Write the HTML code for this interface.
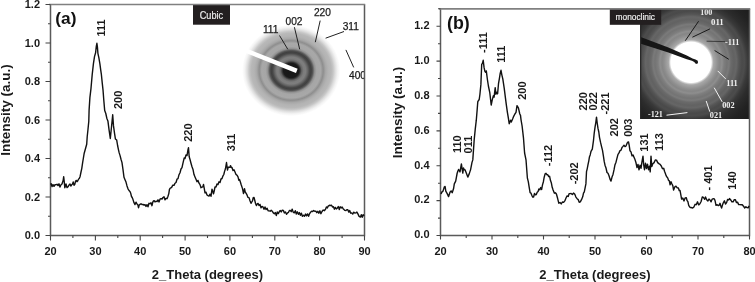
<!DOCTYPE html>
<html><head><meta charset="utf-8"><style>
html,body{margin:0;padding:0;background:#fff;}
body{width:755px;height:282px;overflow:hidden;position:relative;}
svg{position:absolute;left:0;top:0;}
text{font-family:"Liberation Sans",Arial,sans-serif;}
.tl{font-size:11px;font-weight:bold;fill:#1a1a1a;}
.pk{font-size:11px;font-weight:bold;fill:#1a1a1a;}
.at{font-size:13px;font-weight:bold;fill:#1a1a1a;} .yt{font-size:13.5px;}
.pl{font-size:17.3px;font-weight:bold;fill:#111;}
.ia text{font-size:10.2px;fill:#1a1a1a;stroke:#1a1a1a;stroke-width:0.25px;}
.ib text{font-size:8.6px;font-weight:bold;fill:#f0f0f0;font-family:"Liberation Serif",serif;}
.lb{font-size:9.4px;fill:#eee;stroke:#eee;stroke-width:0.2px;}
</style></head><body>
<svg width="755" height="282" viewBox="0 0 755 282">

<defs>
<radialGradient id="ga" cx="291.2" cy="70.5" r="55" gradientUnits="userSpaceOnUse" gradientTransform="translate(291.2 70.5) scale(1 0.93) translate(-291.2 -70.5)">
<stop offset="0.0000" stop-color="#161616"/>
<stop offset="0.1418" stop-color="#1a1a1a"/>
<stop offset="0.1636" stop-color="#363636"/>
<stop offset="0.1909" stop-color="#646464"/>
<stop offset="0.2273" stop-color="#7c7c7c"/>
<stop offset="0.2636" stop-color="#7e7e7e"/>
<stop offset="0.3000" stop-color="#666"/>
<stop offset="0.3364" stop-color="#474747"/>
<stop offset="0.3636" stop-color="#404040"/>
<stop offset="0.3909" stop-color="#555"/>
<stop offset="0.4273" stop-color="#919191"/>
<stop offset="0.4636" stop-color="#a6a6a6"/>
<stop offset="0.5364" stop-color="#a8a8a8"/>
<stop offset="0.5818" stop-color="#8e8e8e"/>
<stop offset="0.6273" stop-color="#a8a8a8"/>
<stop offset="0.6727" stop-color="#b3b3b3"/>
<stop offset="0.7273" stop-color="#b8b8b8"/>
<stop offset="0.7636" stop-color="#c6c6c6"/>
<stop offset="0.8000" stop-color="#dddddd"/>
<stop offset="0.8455" stop-color="#f3f3f3"/>
<stop offset="0.8909" stop-color="#fff"/>
</radialGradient>
<radialGradient id="gb" cx="691" cy="62.3" r="80" gradientUnits="userSpaceOnUse">
<stop offset="0.0000" stop-color="#fff"/>
<stop offset="0.2525" stop-color="#fff"/>
<stop offset="0.2662" stop-color="#d2d2d2"/>
<stop offset="0.2825" stop-color="#a8a8a8"/>
<stop offset="0.3125" stop-color="#9a9a9a"/>
<stop offset="0.3375" stop-color="#8e8e8e"/>
<stop offset="0.3625" stop-color="#868686"/>
<stop offset="0.3875" stop-color="#8e8e8e"/>
<stop offset="0.4125" stop-color="#7e7e7e"/>
<stop offset="0.4500" stop-color="#747474"/>
<stop offset="0.4750" stop-color="#7a7a7a"/>
<stop offset="0.5000" stop-color="#6a6a6a"/>
<stop offset="0.5375" stop-color="#626262"/>
<stop offset="0.5687" stop-color="#666"/>
<stop offset="0.6000" stop-color="#555"/>
<stop offset="0.6375" stop-color="#4a4a4a"/>
<stop offset="0.6687" stop-color="#4c4c4c"/>
<stop offset="0.7125" stop-color="#393939"/>
<stop offset="0.7750" stop-color="#2c2c2c"/>
<stop offset="0.8750" stop-color="#222"/>
<stop offset="1.0000" stop-color="#1c1c1c"/>
</radialGradient>
<clipPath id="ca"><rect x="225" y="5" width="139.5" height="112"/></clipPath>
<clipPath id="cb"><rect x="640" y="8.5" width="110" height="110.5"/></clipPath>
</defs>
<g clip-path="url(#ca)">
<rect x="225" y="5" width="140" height="112" fill="url(#ga)"/>
<line x1="238" y1="47.5" x2="296.8" y2="70.8" stroke="#fff" stroke-width="4.5"/>
<g stroke="#222" stroke-width="1">
<line x1="279.5" y1="35.5" x2="287.8" y2="49.3"/>
<line x1="294.4" y1="27.2" x2="299.7" y2="49.3"/>
<line x1="320.2" y1="20.6" x2="315.3" y2="42.2"/>
<line x1="344" y1="31.5" x2="325.6" y2="38.2"/>
<line x1="345.9" y1="49.9" x2="353.7" y2="67.4"/>
</g>
<g class="ia">
<text x="270.7" y="32.5" text-anchor="middle">111</text>
<text x="294" y="24.9" text-anchor="middle">002</text>
<text x="322.4" y="16" text-anchor="middle">220</text>
<text x="350.8" y="30.2" text-anchor="middle">311</text>
<text x="349" y="79">400</text>
</g>
</g>
<rect x="193" y="5" width="37" height="19.7" fill="#231f20"/>
<text x="199.7" y="18.9" class="lb" style="font-size:10.6px" textLength="23.4" lengthAdjust="spacingAndGlyphs">Cubic</text>


<g clip-path="url(#cb)">
<rect x="640" y="8.5" width="110" height="110.5" fill="#222"/>
<rect x="640" y="8.5" width="110" height="110.5" fill="url(#gb)"/>
<path d="M640,36.8 L668.4,47.4 L686.8,55.6 L692.5,58.4 L695.5,59.6 L697.8,60.8 L698,63.2 L696,64 L694.2,62 L692,60.8 L686.8,59.2 L668.4,52.4 L640,43.4 Z" fill="#161616"/>
<rect x="640" y="8.5" width="1.3" height="110.5" fill="#2a2a2a"/>
<g stroke="#1a1a1a" stroke-width="1">
<line x1="698.6" y1="21.2" x2="685.3" y2="40.7"/>
<line x1="710.1" y1="28.8" x2="692.4" y2="37.2"/>
<line x1="725" y1="41.6" x2="706.6" y2="41.2" stroke="#3a3a3a"/>
<line x1="714.6" y1="50.5" x2="728.8" y2="59.3"/>
</g>
<g stroke="#f4f4f4" stroke-width="1">
<line x1="725.7" y1="78.9" x2="717.7" y2="70.9"/>
<line x1="722.2" y1="101.9" x2="714.2" y2="87.7"/>
<line x1="709.8" y1="111.7" x2="706.2" y2="101"/>
<line x1="666.5" y1="115.2" x2="687.4" y2="112.6"/>
</g>
<g class="ib">
<text x="700.3" y="14.8" textLength="12" lengthAdjust="spacingAndGlyphs">100</text>
<text x="711" y="25.4" textLength="12.8" lengthAdjust="spacingAndGlyphs">011</text>
<text x="725.1" y="45.1" textLength="14.3" lengthAdjust="spacingAndGlyphs">-111</text>
<text x="726.2" y="86.3" textLength="11.6" lengthAdjust="spacingAndGlyphs">111</text>
<text x="722.2" y="107.6" textLength="12.4" lengthAdjust="spacingAndGlyphs">002</text>
<text x="709.8" y="117.5" textLength="12.4" lengthAdjust="spacingAndGlyphs">021</text>
<text x="648" y="117" textLength="14.9" lengthAdjust="spacingAndGlyphs">-121</text>
</g>
</g>
<rect x="609.8" y="8.9" width="51.4" height="15.9" fill="#231f20"/>
<text x="615.6" y="20" class="lb" textLength="39.4" lengthAdjust="spacingAndGlyphs">monoclinic</text>

<path d="M50.5,4.5 L50.5,235.5 L364.5,235.5 L364.5,4.5" fill="none" stroke="#5a5a5a" stroke-width="1.5"/>
<path d="M49.0,4.5 L365.2,4.5" fill="none" stroke="#808080" stroke-width="1.7"/>
<path d="M50.5,235.5 v5 M95.4,235.5 v5 M140.2,235.5 v5 M185.1,235.5 v5 M229.9,235.5 v5 M274.8,235.5 v5 M319.6,235.5 v5 M364.5,235.5 v5 M72.9,235.5 v2.5 M117.8,235.5 v2.5 M162.6,235.5 v2.5 M207.5,235.5 v2.5 M252.4,235.5 v2.5 M297.2,235.5 v2.5 M342.1,235.5 v2.5 M50.5,235.5 h-5 M50.5,197.0 h-5 M50.5,158.5 h-5 M50.5,120.0 h-5 M50.5,81.5 h-5 M50.5,43.0 h-5 M50.5,4.5 h-5 M50.5,216.2 h-2.5 M50.5,177.8 h-2.5 M50.5,139.2 h-2.5 M50.5,100.8 h-2.5 M50.5,62.2 h-2.5 M50.5,23.8 h-2.5" stroke="#444" stroke-width="1.1" fill="none"/>
<text x="50.5" y="255.3" class="tl" text-anchor="middle">20</text>
<text x="95.4" y="255.3" class="tl" text-anchor="middle">30</text>
<text x="140.2" y="255.3" class="tl" text-anchor="middle">40</text>
<text x="185.1" y="255.3" class="tl" text-anchor="middle">50</text>
<text x="229.9" y="255.3" class="tl" text-anchor="middle">60</text>
<text x="274.8" y="255.3" class="tl" text-anchor="middle">70</text>
<text x="319.6" y="255.3" class="tl" text-anchor="middle">80</text>
<text x="364.5" y="255.3" class="tl" text-anchor="middle">90</text>
<text x="40" y="239.2" class="tl" text-anchor="end">0.0</text>
<text x="40" y="200.7" class="tl" text-anchor="end">0.2</text>
<text x="40" y="162.2" class="tl" text-anchor="end">0.4</text>
<text x="40" y="123.7" class="tl" text-anchor="end">0.6</text>
<text x="40" y="85.2" class="tl" text-anchor="end">0.8</text>
<text x="40" y="46.7" class="tl" text-anchor="end">1.0</text>
<text x="40" y="8.2" class="tl" text-anchor="end">1.2</text>
<path d="M440.5,8.779999999999973 L440.5,235.5 L749.5,235.5 L749.5,8.779999999999973" fill="none" stroke="#5a5a5a" stroke-width="1.5"/>
<path d="M439.0,8.779999999999973 L750.2,8.779999999999973" fill="none" stroke="#808080" stroke-width="1.7"/>
<path d="M440.5,235.5 v4 M492.0,235.5 v4 M543.5,235.5 v4 M595.0,235.5 v4 M646.5,235.5 v4 M698.0,235.5 v4 M749.5,235.5 v4 M466.2,235.5 v2.5 M517.8,235.5 v2.5 M569.2,235.5 v2.5 M620.8,235.5 v2.5 M672.2,235.5 v2.5 M723.8,235.5 v2.5 M440.5,235.5 h-4 M440.5,200.6 h-4 M440.5,165.7 h-4 M440.5,130.9 h-4 M440.5,96.0 h-4 M440.5,61.1 h-4 M440.5,26.2 h-4 M440.5,218.1 h-2.5 M440.5,183.2 h-2.5 M440.5,148.3 h-2.5 M440.5,113.4 h-2.5 M440.5,78.5 h-2.5 M440.5,43.7 h-2.5 M440.5,8.8 h-2.5" stroke="#444" stroke-width="1.1" fill="none"/>
<text x="440.5" y="255.1" class="tl" text-anchor="middle">20</text>
<text x="492.0" y="255.1" class="tl" text-anchor="middle">30</text>
<text x="543.5" y="255.1" class="tl" text-anchor="middle">40</text>
<text x="595.0" y="255.1" class="tl" text-anchor="middle">50</text>
<text x="646.5" y="255.1" class="tl" text-anchor="middle">60</text>
<text x="698.0" y="255.1" class="tl" text-anchor="middle">70</text>
<text x="749.5" y="255.1" class="tl" text-anchor="middle">80</text>
<text x="429.5" y="238.3" class="tl" text-anchor="end">0.0</text>
<text x="429.5" y="203.4" class="tl" text-anchor="end">0.2</text>
<text x="429.5" y="168.5" class="tl" text-anchor="end">0.4</text>
<text x="429.5" y="133.7" class="tl" text-anchor="end">0.6</text>
<text x="429.5" y="98.8" class="tl" text-anchor="end">0.8</text>
<text x="429.5" y="63.9" class="tl" text-anchor="end">1.0</text>
<text x="429.5" y="29.0" class="tl" text-anchor="end">1.2</text>
<path d="M50.5,184.5 L51.2,183.8 L52.0,186.6 L53.0,184.6 L54.0,186.3 L55.0,184.6 L56.0,184.7 L57.0,184.3 L58.0,185.6 L59.0,183.8 L60.0,187.1 L61.0,184.7 L62.0,184.0 L63.2,180.1 L63.7,176.7 L64.2,181.4 L64.8,187.8 L66.0,184.0 L67.0,187.6 L68.0,186.8 L69.0,185.0 L70.0,184.0 L70.8,186.1 L71.5,185.0 L72.5,184.1 L73.2,182.0 L74.0,185.2 L74.8,184.3 L75.5,181.4 L76.2,180.4 L77.0,181.7 L77.8,180.8 L78.5,179.3 L79.3,178.4 L80.1,176.4 L80.9,172.5 L81.8,168.3 L82.6,162.9 L83.4,158.0 L84.2,153.2 L85.6,148.2 L86.7,144.3 L87.2,136.7 L88.0,129.2 L88.8,121.2 L89.1,110.1 L89.9,97.6 L91.0,88.3 L92.2,74.6 L93.4,63.8 L94.5,56.6 L95.6,52.8 L96.3,46.4 L96.9,43.3 L97.4,46.8 L97.9,53.3 L98.8,57.3 L99.9,63.9 L100.7,69.8 L101.4,74.7 L102.2,82.6 L103.0,89.8 L103.8,100.2 L104.7,110.6 L105.8,113.5 L106.8,118.2 L107.9,120.9 L109.1,130.2 L110.3,138.5 L111.5,127.0 L112.7,114.7 L113.5,125.9 L114.5,133.1 L115.4,138.9 L116.7,140.1 L117.6,145.5 L118.5,149.8 L119.2,152.9 L120.0,155.4 L121.0,159.2 L122.0,162.6 L123.0,169.7 L124.0,177.3 L125.0,179.7 L126.0,182.1 L127.0,185.9 L128.0,188.8 L129.0,190.5 L130.0,191.6 L130.8,193.6 L131.5,196.5 L132.2,197.5 L133.0,199.6 L134.0,202.7 L135.0,204.6 L136.0,202.2 L137.0,204.0 L137.8,204.7 L138.5,207.7 L139.2,205.0 L140.0,204.4 L141.0,203.7 L142.0,204.6 L143.0,204.5 L144.0,205.0 L145.0,204.7 L146.0,206.4 L147.0,204.7 L148.0,206.8 L149.0,203.3 L150.0,203.7 L151.0,202.7 L152.0,205.7 L152.8,202.2 L153.5,200.9 L154.2,200.6 L155.0,201.9 L156.0,201.2 L157.0,201.6 L158.0,199.8 L159.0,201.9 L160.0,199.2 L161.0,198.6 L162.0,199.0 L163.0,197.5 L164.0,196.7 L165.0,199.8 L166.0,198.4 L167.0,198.7 L168.0,196.2 L168.8,193.6 L169.5,189.2 L170.5,187.9 L171.5,187.6 L172.8,185.2 L174.0,185.4 L175.0,183.2 L176.0,182.5 L177.0,179.2 L178.0,178.7 L179.0,174.7 L180.0,172.7 L181.0,169.0 L182.0,167.6 L182.8,163.8 L183.5,160.9 L184.2,157.9 L185.0,158.5 L186.0,154.9 L187.0,155.6 L188.0,149.6 L188.5,147.7 L189.2,156.7 L190.1,159.8 L191.0,163.2 L192.0,166.8 L193.0,169.4 L194.0,174.6 L195.0,177.0 L196.0,179.3 L197.0,181.7 L198.0,180.4 L199.0,183.2 L200.0,184.6 L201.0,187.7 L202.0,187.1 L202.8,186.9 L203.5,184.5 L204.2,188.2 L205.0,192.8 L206.0,192.2 L207.0,195.0 L208.0,195.6 L209.0,196.1 L210.0,194.2 L211.0,196.3 L212.0,189.2 L212.8,191.1 L213.5,193.7 L214.2,191.0 L215.0,187.0 L216.0,187.0 L217.0,184.0 L218.0,184.6 L219.0,181.8 L220.0,182.5 L221.0,179.0 L222.0,178.5 L223.0,175.8 L223.8,174.5 L224.5,171.6 L225.5,168.5 L226.5,162.5 L227.5,170.1 L228.2,167.1 L229.0,167.3 L229.8,167.4 L230.5,165.6 L231.2,167.6 L232.0,167.5 L233.0,170.5 L234.0,169.8 L235.0,172.0 L236.0,174.4 L237.0,175.2 L238.0,176.8 L238.8,180.2 L239.5,179.5 L240.3,181.7 L241.2,184.7 L242.5,188.6 L243.5,193.5 L244.5,188.6 L245.2,192.0 L246.0,193.2 L247.0,194.9 L248.0,197.4 L249.0,197.6 L250.0,200.8 L251.0,203.3 L251.8,202.0 L252.5,200.9 L253.2,197.7 L254.0,197.5 L254.8,200.5 L255.5,203.4 L256.4,205.6 L257.2,203.9 L258.1,203.4 L259.0,205.6 L260.0,204.4 L261.0,207.8 L262.0,206.4 L263.0,206.9 L264.0,209.3 L265.0,207.0 L266.0,209.5 L267.1,208.3 L268.1,210.8 L269.2,210.9 L270.2,211.2 L271.2,210.2 L272.2,211.2 L273.3,212.9 L274.3,213.7 L275.3,212.6 L276.3,215.5 L277.3,212.0 L278.3,213.6 L279.2,211.9 L280.2,210.5 L281.2,211.9 L282.3,210.1 L283.3,210.4 L284.4,212.9 L285.5,212.0 L286.5,214.3 L287.6,212.8 L288.5,212.3 L289.4,210.5 L290.3,210.4 L291.2,211.7 L292.2,209.1 L293.2,212.1 L294.3,212.8 L295.3,210.7 L296.3,214.0 L297.3,211.8 L298.4,214.3 L299.4,212.6 L300.4,215.3 L301.4,213.2 L302.4,216.4 L303.4,215.3 L304.5,216.3 L305.5,214.1 L306.5,215.8 L307.5,213.9 L308.6,216.3 L309.6,213.6 L310.6,212.3 L311.7,211.1 L312.7,211.6 L313.7,210.5 L314.7,211.2 L315.8,211.1 L316.8,212.7 L317.8,211.3 L318.8,213.3 L319.9,210.8 L320.9,213.7 L322.0,211.5 L323.2,210.0 L324.5,210.7 L325.4,209.4 L326.4,206.9 L327.3,207.9 L328.2,206.1 L329.4,205.3 L330.7,205.5 L331.6,205.2 L332.5,207.0 L333.5,206.8 L334.4,209.2 L335.4,207.4 L336.3,208.9 L337.3,208.2 L338.3,206.5 L339.3,209.5 L340.2,206.8 L341.2,207.9 L342.1,207.0 L343.1,208.7 L344.0,209.6 L344.9,210.4 L345.9,210.6 L346.8,209.7 L347.8,209.8 L348.8,212.1 L349.7,210.6 L350.7,213.2 L351.7,212.9 L352.7,214.1 L353.8,212.2 L354.8,213.1 L355.8,212.8 L356.9,212.1 L357.9,213.9 L359.1,216.4 L360.4,217.1 L361.3,214.7 L362.2,217.3 L363.1,214.6 L364.0,216.0" fill="none" stroke="#111" stroke-width="1.4" stroke-linejoin="round"/>
<path d="M441.0,194.0 L442.0,191.9 L443.0,191.1 L444.4,186.8 L445.1,186.5 L445.8,191.2 L447.2,193.6 L448.6,196.6 L450.0,192.3 L451.1,190.9 L452.2,192.7 L453.6,188.5 L454.3,183.8 L455.7,181.2 L457.1,173.5 L457.9,171.0 L458.6,169.5 L460.0,171.9 L461.4,163.9 L462.1,168.9 L462.8,173.1 L463.5,167.9 L464.2,169.7 L465.0,169.7 L466.4,173.3 L467.8,177.1 L469.2,173.9 L470.6,169.6 L472.0,162.4 L472.8,159.9 L474.2,139.8 L475.2,129.6 L476.3,120.2 L477.1,110.5 L477.8,101.6 L479.2,99.5 L479.9,94.5 L480.9,84.4 L481.7,64.4 L482.4,63.4 L483.2,60.3 L484.1,67.7 L484.9,71.3 L485.6,72.2 L486.3,70.9 L487.4,79.5 L488.4,86.0 L489.8,92.7 L491.2,105.0 L492.3,99.6 L493.4,95.8 L494.1,97.2 L495.2,87.6 L495.9,94.2 L496.8,92.3 L497.6,93.8 L498.5,83.7 L499.5,77.8 L500.2,73.4 L501.0,70.3 L501.9,75.1 L502.8,78.8 L504.2,88.1 L505.2,96.2 L506.3,104.6 L507.4,112.3 L508.5,118.8 L509.2,123.7 L510.6,120.2 L511.3,122.0 L512.7,118.8 L513.8,116.1 L514.9,114.0 L516.0,112.4 L517.0,105.6 L518.4,107.8 L519.8,114.0 L520.5,115.3 L521.0,119.6 L522.1,126.0 L523.5,138.2 L524.6,153.0 L526.0,159.8 L527.4,178.2 L528.3,181.7 L529.2,187.4 L530.1,192.7 L531.0,193.2 L531.8,195.3 L532.7,197.1 L533.6,197.0 L534.5,193.4 L535.4,194.9 L536.3,194.5 L537.2,192.3 L538.1,191.5 L538.9,188.9 L539.8,189.7 L540.7,187.6 L541.6,189.5 L542.5,184.9 L543.4,181.7 L544.2,177.2 L545.1,173.9 L546.0,173.3 L546.9,174.7 L547.8,174.8 L548.7,176.6 L549.6,176.3 L550.5,180.6 L551.3,182.7 L552.2,187.3 L553.1,190.0 L554.4,193.2 L555.4,192.8 L556.4,194.0 L557.6,198.3 L558.8,203.2 L560.0,202.5 L561.2,203.9 L562.4,202.0 L563.6,202.4 L564.8,200.9 L566.0,198.0 L567.1,195.9 L568.3,196.4 L569.1,193.6 L569.9,193.6 L571.1,193.5 L572.3,194.5 L573.5,193.1 L574.7,194.1 L575.9,197.1 L577.1,198.7 L578.2,199.6 L579.2,202.2 L580.3,201.9 L581.5,199.7 L582.7,196.8 L583.5,193.2 L584.3,191.9 L585.1,187.9 L585.9,183.9 L586.5,171.7 L587.2,168.8 L588.0,164.6 L588.8,160.8 L589.5,156.7 L590.2,154.9 L591.0,151.4 L592.3,149.2 L593.5,140.3 L594.2,133.3 L595.0,127.4 L595.8,122.6 L596.5,117.1 L597.2,123.0 L598.0,128.4 L598.8,132.0 L599.5,137.3 L600.5,142.2 L601.5,146.3 L602.5,150.4 L603.5,156.7 L604.2,161.4 L605.0,165.2 L606.0,168.0 L607.0,172.5 L608.0,173.3 L609.0,175.8 L610.0,179.1 L611.0,181.1 L612.0,177.1 L613.0,174.4 L614.0,169.9 L615.0,164.7 L616.0,162.2 L617.0,158.2 L618.0,154.3 L619.0,152.9 L620.0,150.6 L621.0,150.2 L622.0,147.5 L623.0,146.4 L624.0,145.2 L625.0,146.6 L626.0,146.0 L627.0,143.4 L627.8,142.2 L628.5,141.9 L629.2,145.4 L630.0,150.8 L631.0,151.9 L632.0,155.9 L633.0,154.9 L634.0,157.2 L635.0,159.6 L636.0,162.8 L637.0,167.5 L638.0,164.4 L639.0,169.8 L640.0,165.3 L641.0,168.3 L642.0,161.6 L643.0,156.2 L643.7,164.8 L644.5,169.7 L645.5,163.2 L646.5,168.5 L647.5,164.2 L648.5,169.7 L649.5,166.2 L650.2,171.9 L651.0,156.1 L651.8,166.6 L652.8,163.7 L654.1,162.6 L655.3,160.0 L656.5,160.1 L657.7,162.6 L658.9,163.6 L660.1,164.3 L661.3,166.0 L662.5,168.7 L663.7,168.3 L664.5,171.3 L665.3,173.2 L666.1,175.6 L666.9,177.0 L667.7,177.9 L668.5,180.3 L669.3,180.9 L670.1,184.8 L671.0,181.7 L672.0,184.1 L672.8,185.6 L673.6,190.1 L674.8,186.9 L676.0,186.2 L677.2,187.8 L678.4,188.0 L679.2,190.6 L680.0,190.4 L680.8,194.6 L681.6,199.1 L682.8,198.1 L684.0,200.9 L685.1,197.9 L686.3,197.7 L687.1,200.6 L687.9,201.7 L688.7,205.4 L689.5,206.7 L690.3,207.5 L691.1,207.5 L691.9,207.8 L692.7,208.0 L693.9,207.0 L695.1,204.3 L696.3,204.7 L697.5,201.8 L698.7,204.9 L699.9,203.8 L701.1,201.5 L702.3,196.9 L703.1,197.2 L703.9,198.1 L704.7,199.3 L705.5,196.9 L706.7,199.8 L707.9,201.0 L709.0,199.1 L710.0,200.0 L711.1,201.8 L712.2,199.1 L713.3,198.8 L714.4,198.9 L715.2,201.3 L716.0,205.3 L717.2,204.7 L718.4,205.6 L719.2,205.2 L720.0,203.3 L720.8,205.9 L721.6,208.0 L722.4,205.2 L723.2,203.0 L724.4,200.8 L725.5,204.0 L726.6,202.6 L727.6,199.4 L728.7,200.0 L729.5,198.6 L730.3,199.4 L731.1,200.5 L731.9,201.8 L733.1,201.8 L734.3,199.6 L735.4,199.7 L736.4,202.5 L737.5,202.1 L738.7,204.6 L739.9,204.6 L741.1,204.7 L742.3,204.7 L743.5,206.2 L744.7,208.0 L745.9,206.8 L747.1,207.6 L748.1,207.8 L749.1,205.9" fill="none" stroke="#111" stroke-width="1.4" stroke-linejoin="round"/>
<text transform="translate(105,27.9) rotate(-90)" class="pk" text-anchor="middle">111</text>
<text transform="translate(121.8,99.9) rotate(-90)" class="pk" text-anchor="middle">200</text>
<text transform="translate(191.5,132.6) rotate(-90)" class="pk" text-anchor="middle">220</text>
<text transform="translate(234.8,142.4) rotate(-90)" class="pk" text-anchor="middle">311</text>
<text transform="translate(460.6,144.2) rotate(-90)" class="pk" text-anchor="middle">110</text>
<text transform="translate(472,144.5) rotate(-90)" class="pk" text-anchor="middle">011</text>
<text transform="translate(487.2,42.6) rotate(-90)" class="pk" text-anchor="middle">-111</text>
<text transform="translate(505.4,54.1) rotate(-90)" class="pk" text-anchor="middle">111</text>
<text transform="translate(525.5,90.6) rotate(-90)" class="pk" text-anchor="middle">200</text>
<text transform="translate(552.4,155.5) rotate(-90)" class="pk" text-anchor="middle">-112</text>
<text transform="translate(578,173.3) rotate(-90)" class="pk" text-anchor="middle">-202</text>
<text transform="translate(587.4,101.3) rotate(-90)" class="pk" text-anchor="middle">220</text>
<text transform="translate(597.2,101.3) rotate(-90)" class="pk" text-anchor="middle">022</text>
<text transform="translate(608.7,103.5) rotate(-90)" class="pk" text-anchor="middle">-221</text>
<text transform="translate(618.3,127.3) rotate(-90)" class="pk" text-anchor="middle">202</text>
<text transform="translate(631.8,127.7) rotate(-90)" class="pk" text-anchor="middle">003</text>
<text transform="translate(648.2,142.5) rotate(-90)" class="pk" text-anchor="middle">131</text>
<text transform="translate(663,142) rotate(-90)" class="pk" text-anchor="middle">113</text>
<text transform="translate(712.2,178) rotate(-90)" class="pk" text-anchor="middle">- 401</text>
<text transform="translate(736.2,180.5) rotate(-90)" class="pk" text-anchor="middle">140</text>
<text x="55.3" y="24.3" class="pl">(a)</text>
<text x="447" y="29.4" class="pl" style="font-size:17.8px">(b)</text>
<text x="207.5" y="279.3" class="at" text-anchor="middle">2_Theta (degrees)</text>
<text x="595" y="278.8" class="at" text-anchor="middle">2_Theta (degrees)</text>
<text transform="translate(10.1,110.1) rotate(-90)" class="at yt" text-anchor="middle">Intensity (a.u.)</text>
<text transform="translate(401.8,112.6) rotate(-90)" class="at yt" text-anchor="middle">Intensity (a.u.)</text>
</svg>
</body></html>
